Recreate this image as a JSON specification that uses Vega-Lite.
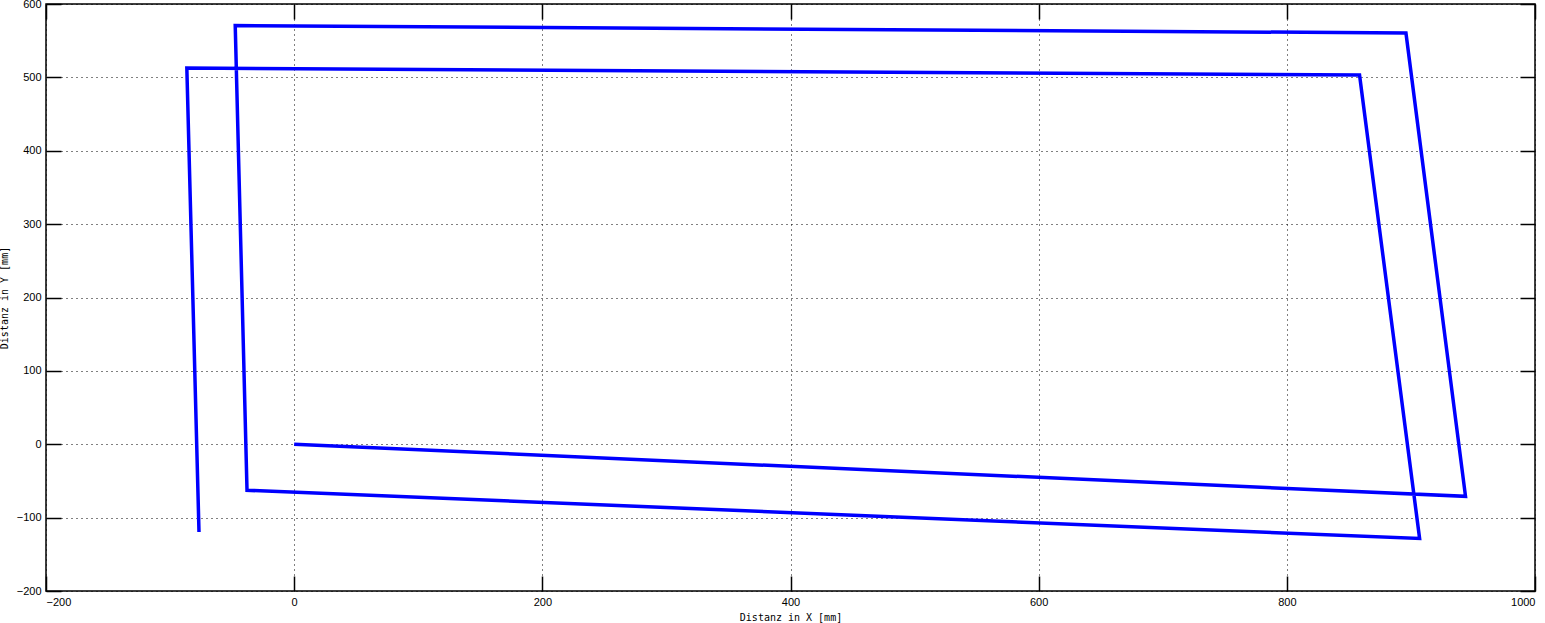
{
  "$schema": "https://vega.github.io/schema/vega-lite/v6.json",
  "autosize": {"type": "none"},
  "padding": {"left": 46, "top": 4, "right": 10, "bottom": 32},
  "width": 1489,
  "height": 587,
  "background": "white",
  "config": {
    "view": {"stroke": "black", "strokeWidth": 1.5},
    "axis": {
      "domainColor": "black",
      "tickColor": "black",
      "tickSize": -15,
      "tickWidth": 1.5,
      "labelFont": "Liberation Sans",
      "labelFontSize": 11,
      "labelColor": "black",
      "labelBound": false,
      "titleFont": "DejaVu Sans Mono",
      "titleFontSize": 10,
      "titleFontWeight": "normal",
      "titleColor": "black",
      "gridColor": "black",
      "gridDash": [1, 4],
      "gridWidth": 1,
      "gridOpacity": 1
    }
  },
  "data": {
    "values": [
      {"i": 0, "x": 0, "y": 0},
      {"i": 1, "x": 944, "y": -71},
      {"i": 2, "x": 896, "y": 560.5},
      {"i": 3, "x": -47.5, "y": 570.6},
      {"i": 4, "x": -38, "y": -62.7},
      {"i": 5, "x": 907, "y": -128.5},
      {"i": 6, "x": 858.6, "y": 503.3},
      {"i": 7, "x": -86.5, "y": 512.8},
      {"i": 8, "x": -76.7, "y": -119.5}
    ]
  },
  "layer": [
    {
      "mark": {"type": "line", "color": "#0000FF", "strokeWidth": 3.5, "strokeJoin": "miter"},
      "encoding": {
        "x": {
          "field": "x", "type": "quantitative",
          "scale": {"domain": [-200, 1000], "nice": false, "zero": false},
          "axis": {"title": "Distanz in X [mm]", "format": "d", "values": [-200, 0, 200, 400, 600, 800, 1000], "grid": true, "labelPadding": 20, "titlePadding": 5, "domain": false}
        },
        "y": {
          "field": "y", "type": "quantitative",
          "scale": {"domain": [-200, 600], "nice": false, "zero": false},
          "axis": {"title": "Distanz in Y [mm]", "format": "d", "values": [-200, -100, 0, 100, 200, 300, 400, 500, 600], "grid": true, "labelPadding": 20, "titlePadding": 7, "domain": false}
        },
        "order": {"field": "i", "type": "quantitative"}
      }
    },
    {
      "mark": {"type": "line", "opacity": 0},
      "encoding": {
        "x": {
          "field": "x", "type": "quantitative",
          "scale": {"domain": [-200, 1000], "nice": false, "zero": false},
          "axis": {"orient": "top", "title": null, "labels": false, "grid": false, "domain": false, "values": [-200, 0, 200, 400, 600, 800, 1000]}
        },
        "y": {
          "field": "y", "type": "quantitative",
          "scale": {"domain": [-200, 600], "nice": false, "zero": false},
          "axis": {"orient": "right", "title": null, "labels": false, "grid": false, "domain": false, "values": [-200, -100, 0, 100, 200, 300, 400, 500, 600]}
        },
        "order": {"field": "i", "type": "quantitative"}
      }
    }
  ],
  "resolve": {"axis": {"x": "independent", "y": "independent"}}
}
